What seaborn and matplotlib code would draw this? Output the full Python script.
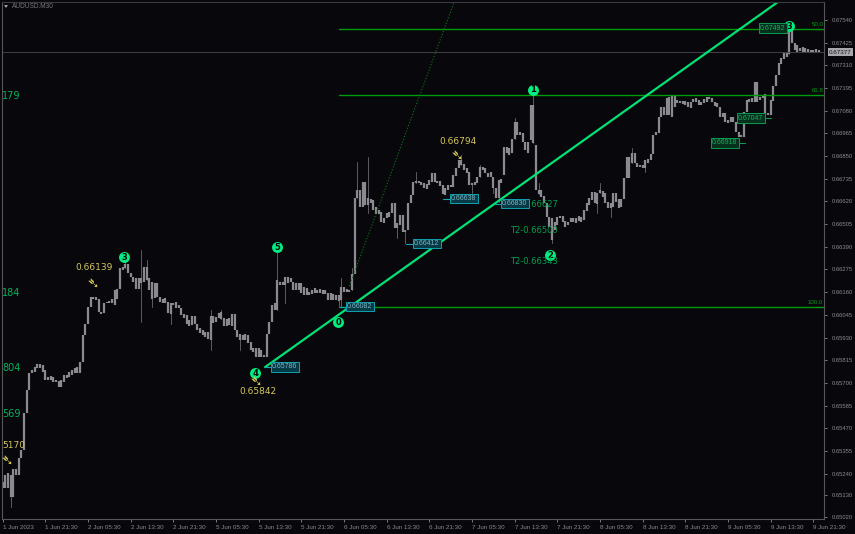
import matplotlib
matplotlib.use("Agg")
import matplotlib.pyplot as plt
import numpy as np
import pandas as pd
import seaborn as sns

# candle bodies in price points (0.00001), one per M30 bar
body_top = [
    65199, 65233, 65241, 65233, 65266, 65266, 65317, 65359, 65545, 65664, 65748, 65765, 65782, 65795, 65795, 65790,
    65765, 65731, 65734, 65731, 65714, 65711, 65714, 65740, 65740, 65756, 65765, 65773, 65782, 65807, 65942, 66001,
    66086, 66137, 66137, 66137, 66123, 66061, 66106, 66111, 66115, 66123, 66170, 66174, 66280, 66289, 66302, 66302,
    66255, 66238, 66230, 66230, 66230, 66289, 66289, 66230, 66213, 66208, 66208, 66137, 66123, 66128, 66111, 66103,
    66103, 66111, 66094, 66078, 66049, 66044, 66018, 66039, 66039, 66001, 65976, 65968, 65959, 65959, 66039, 66039,
    66032, 66056, 66061, 66027, 66022, 66027, 66049, 66049, 65968, 65946, 65942, 65947, 65942, 65909, 65875, 65875,
    65875, 65866, 65841, 65947, 66010, 66094, 66103, 66221, 66213, 66213, 66238, 66238, 66230, 66213, 66208, 66205,
    66205, 66185, 66179, 66163, 66171, 66179, 66171, 66174, 66171, 66171, 66154, 66154, 66151, 66146, 66146, 66188,
    66188, 66174, 66171, 66252, 66636, 66678, 66678, 66720, 66720, 66636, 66631, 66627, 66593, 66577, 66568, 66534,
    66560, 66568, 66610, 66610, 66509, 66551, 66551, 66475, 66614, 66653, 66720, 66725, 66725, 66720, 66712, 66708,
    66729, 66762, 66762, 66725, 66725, 66703, 66686, 66703, 66703, 66754, 66788, 66830, 66830, 66810, 66788, 66771,
    66715, 66720, 66746, 66793, 66793, 66788, 66766, 66771, 66742, 66686, 66729, 66732, 66894, 66894, 66889, 66935,
    67024, 67024, 66974, 66965, 66923, 66923, 67109, 67109, 66906, 66678, 66678, 66648, 66610, 66543, 66534, 66517,
    66543, 66546, 66546, 66523, 66517, 66534, 66534, 66534, 66546, 66542, 66576, 66610, 66635, 66669, 66669, 66664,
    66678, 66674, 66661, 66619, 66610, 66661, 66661, 66630, 66630, 66737, 66847, 66847, 66867, 66864, 66813, 66804,
    66804, 66830, 66833, 66860, 66957, 66973, 67049, 67097, 67100, 67142, 67151, 67159, 67159, 67134, 67131, 67131,
    67131, 67126, 67126, 67137, 67142, 67134, 67126, 67137, 67151, 67151, 67142, 67126, 67117, 67100, 67070, 67070,
    67033, 67046, 67046, 67024, 66973, 66957, 67075, 67134, 67137, 67142, 67227, 67227, 67151, 67159, 67163, 67066,
    67134, 67205, 67261, 67320, 67345, 67371, 67379, 67489, 67489, 67425, 67413, 67396, 67401, 67396, 67391, 67387,
    67387, 67391, 67387,
]
body_bottom = [
    65165, 65165, 65165, 65123, 65123, 65233, 65233, 65317, 65359, 65545, 65664, 65748, 65756, 65773, 65773, 65756,
    65714, 65714, 65714, 65706, 65706, 65677, 65680, 65706, 65723, 65731, 65740, 65748, 65748, 65748, 65807, 65942,
    66001, 66086, 66123, 66120, 66061, 66049, 66052, 66103, 66106, 66106, 66094, 66123, 66174, 66272, 66280, 66255,
    66238, 66213, 66174, 66174, 66208, 66213, 66221, 66170, 66123, 66128, 66133, 66111, 66106, 66106, 66052, 66049,
    66094, 66078, 66078, 66044, 66027, 66001, 65988, 65993, 66001, 65968, 65951, 65942, 65934, 65925, 65917, 66005,
    66010, 66027, 66022, 65988, 65988, 65993, 65988, 65968, 65934, 65917, 65917, 65917, 65900, 65866, 65858, 65832,
    65832, 65832, 65832, 65832, 65947, 66010, 66069, 66069, 66196, 66196, 66196, 66204, 66213, 66171, 66171, 66171,
    66154, 66146, 66146, 66146, 66151, 66154, 66154, 66154, 66151, 66151, 66120, 66120, 66120, 66120, 66117, 66120,
    66163, 66163, 66163, 66171, 66252, 66636, 66593, 66593, 66602, 66602, 66610, 66577, 66556, 66556, 66517, 66512,
    66534, 66543, 66560, 66484, 66484, 66501, 66467, 66467, 66475, 66610, 66653, 66712, 66712, 66703, 66686, 66681,
    66703, 66720, 66720, 66712, 66698, 66658, 66653, 66678, 66695, 66695, 66749, 66788, 66805, 66779, 66762, 66703,
    66703, 66703, 66712, 66742, 66779, 66762, 66746, 66742, 66686, 66636, 66636, 66712, 66754, 66864, 66855, 66864,
    66935, 66957, 66957, 66923, 66881, 66864, 66931, 66915, 66678, 66658, 66644, 66610, 66543, 66492, 66425, 66475,
    66501, 66534, 66517, 66492, 66501, 66517, 66517, 66512, 66522, 66517, 66526, 66573, 66602, 66627, 66610, 66607,
    66661, 66644, 66613, 66585, 66585, 66590, 66619, 66585, 66590, 66630, 66737, 66737, 66813, 66813, 66796, 66796,
    66788, 66788, 66813, 66830, 66860, 66957, 66968, 67049, 67058, 67058, 67058, 67049, 67100, 67117, 67120, 67114,
    67109, 67097, 67092, 67126, 67126, 67109, 67109, 67117, 67126, 67137, 67126, 67104, 67100, 67049, 67046, 67024,
    67019, 67024, 67024, 66973, 66948, 66945, 66945, 67075, 67126, 67126, 67126, 67126, 67134, 67142, 67066, 67058,
    67058, 67131, 67205, 67261, 67317, 67340, 67354, 67367, 67421, 67387, 67379, 67384, 67379, 67379, 67371, 67374,
    67371, 67371, 67379,
]
wick_bars = [3, 46, 52, 54, 56, 63, 78, 82, 89, 103, 106, 126, 127, 131, 133, 137, 148, 151, 155, 172, 176, 179,
             184, 186, 192, 199, 201, 206, 223, 224, 228, 236, 241, 295]
wick_high = [65233, 66314, 66373, 66323, 66213, 66103, 66069, 66072, 65946, 66356, 66238, 66146, 66230, 66281, 66822,
             66847, 66509, 66475, 66771, 66855, 66715, 66805, 66742, 66729, 67041, 67160, 66712, 66534, 66664, 66715,
             66610, 66889, 66830, 67523]
wick_low = [65072, 66280, 66010, 66221, 66086, 66001, 65866, 66022, 65866, 66069, 66103, 66087, 66087, 66171, 66636,
            66560, 66433, 66408, 66712, 66805, 66661, 66742, 66661, 66619, 66935, 66915, 66658, 66408, 66559, 66661,
            66542, 66813, 66771, 67367]

price_ticks = [67540, 67425, 67310, 67195, 67080, 66965, 66850, 66735, 66620, 66505, 66390, 66275, 66160, 66045,
               65930, 65815, 65700, 65585, 65470, 65355, 65240, 65130, 65020]
time_labels = ["1 Jun 2023", "1 Jun 21:30", "2 Jun 05:30", "2 Jun 13:30", "2 Jun 21:30", "5 Jun 05:30", "5 Jun 13:30",
               "5 Jun 21:30", "6 Jun 05:30", "6 Jun 13:30", "6 Jun 21:30", "7 Jun 05:30", "7 Jun 13:30", "7 Jun 21:30",
               "8 Jun 05:30", "8 Jun 13:30", "8 Jun 21:30", "9 Jun 05:30", "9 Jun 13:30", "9 Jun 21:30"]
last_price = 67377

# fibonacci levels and wave markers
fib_prices = [67494, 67162, 66087]
fib_start_bars = [126, 126, 126]
trend_bars = [98.4, 290.7]
trend_prices = [65780, 67631]
dotted_bars = [130, 169.3]
dotted_prices = [66190, 67631]
wave_labels = ["3", "5", "4", "0", "1", "2", "3"]
wave_bars = [45.5, 103, 94.7, 125.8, 199, 205.3, 295]
wave_prices = [66336, 66388, 65750, 66007, 67185, 66347, 67509]

BG = "#07070c"
FG = "#8a8a8f"
GREEN = "#00b35c"
BRIGHT = "#00ee80"
YELLOW = "#d6c85a"
LIME = "#009a0a"
SMALL = "Liberation Sans"

sns.set_theme(style="dark", rc={"axes.facecolor": BG, "figure.facecolor": BG, "axes.edgecolor": "#55555a",
                                "axes.linewidth": 0.8})
plt.rcParams["font.family"] = ["DejaVu Sans"]

fig = plt.figure(figsize=(8.55, 5.34), dpi=100)
ax = fig.add_axes([2 / 855, 15 / 534, 822 / 855, 517 / 534])


def px_text(x, y, s, **kwargs):
    fig.text(x / 855, 1 - y / 534, s, va="center", **kwargs)


def vertical_frame(bars, tops, bottoms):
    return pd.DataFrame({
        "bar": np.concatenate([bars, bars]),
        "price": np.concatenate([tops, bottoms]) / 1e5,
    })


bars = np.arange(len(body_top))
wicks = vertical_frame(wick_bars, wick_high, wick_low)
bodies = vertical_frame(bars, body_top, body_bottom)
sns.lineplot(data=wicks, x="bar", y="price", units="bar", estimator=None, color="#5c5c62", lw=0.7, ax=ax, legend=False)
sns.lineplot(data=bodies, x="bar", y="price", units="bar", estimator=None, color="#8a8a90", lw=1.6,
             solid_capstyle="butt", ax=ax, legend=False)

# horizontal levels
for price, start in zip(fib_prices, fib_start_bars):
    level = pd.DataFrame({"bar": [start, 308], "price": [price / 1e5, price / 1e5]})
    sns.lineplot(data=level, x="bar", y="price", color=LIME, lw=1, ax=ax, legend=False)
current = pd.DataFrame({"bar": [-1, 308], "price": [last_price / 1e5, last_price / 1e5]})
sns.lineplot(data=current, x="bar", y="price", color="#404046", lw=0.7, ax=ax, legend=False)

dotted = pd.DataFrame({"bar": dotted_bars, "price": np.array(dotted_prices) / 1e5})
sns.lineplot(data=dotted, x="bar", y="price", color="#0a7a1a", lw=0.8, linestyle=":", ax=ax, legend=False)
trend = pd.DataFrame({"bar": trend_bars, "price": np.array(trend_prices) / 1e5})
sns.lineplot(data=trend, x="bar", y="price", color="#00e274", lw=1.6, ax=ax, legend=False)

# wave circles
waves = pd.DataFrame({"bar": wave_bars, "price": np.array(wave_prices) / 1e5})
sns.scatterplot(data=waves, x="bar", y="price", color=BRIGHT, s=62, linewidth=0, ax=ax, legend=False, zorder=5)
for label, bar, price in zip(wave_labels, wave_bars, wave_prices):
    ax.text(bar, price / 1e5, label, color=BG, fontsize=6, ha="center", va="center", fontweight="bold", zorder=6)

ax.set_xlim(-0.25, 308)
ax.set_ylim(0.65010, 0.67631)
ax.set(xlabel=None, ylabel=None)
ax.yaxis.tick_right()
ax.set_yticks([p / 1e5 for p in price_ticks])
ax.set_yticklabels([f"{p / 1e5:.5f}" for p in price_ticks], family=SMALL)
ax.set_xticks(16 * np.arange(len(time_labels)))
ax.set_xticklabels(time_labels, ha="left", family=SMALL)
ax.tick_params(axis="y", colors=FG, labelsize=4.2, length=2.5, width=0.6, pad=3, right=True)
ax.tick_params(axis="x", colors=FG, labelsize=4.5, length=2, width=0.6, pad=2, bottom=True)
ax.spines["top"].set_color("#3a3a40")

# current price tag
px_text(829, 52, "0.67377", color="#15151a", fontsize=4.5, ha="left", family=SMALL,
        bbox=dict(facecolor="#a8a8ac", edgecolor="none", pad=1.1))

# fibonacci labels
for x, y, s in [(812, 25, "50.0"), (812, 90, "61.8"), (808, 302, "100.0")]:
    px_text(x, y, s, color="#00a010", fontsize=4.4, ha="left", family=SMALL)

# left edge and target labels
for y, s in [(96, "179"), (292.5, "184"), (368, "804"), (414, "569")]:
    px_text(2, y, s, color=GREEN, fontsize=7, ha="left")
for x, y, s in [(2, 445, "5170"), (75, 268, "0.66139"), (439, 141, "0.66794"), (239, 391, "0.65842")]:
    px_text(x, y, s, color=YELLOW, fontsize=6.5, ha="left")
for x, y in [(7, 461), (93, 284), (457, 156), (256, 382)]:
    px_text(x, y, "\u27b4", color=YELLOW, fontsize=11, ha="center")
for y, s in [(205, "T2-0.66627"), (230.5, "T2-0.66500"), (261, "T2-0.66343")]:
    px_text(510, y, s, color="#00a050", fontsize=6, ha="left")

# boxed price labels with their short leader lines
cyan_boxes = [(272, 367, "0.65786", 265), (347, 306.5, "0.66082", 340), (414, 243.5, "0.66412", 406),
              (451, 198.5, "0.66638", 443), (502, 203.5, "0.66830", 495)]
for x, y, s, start in cyan_boxes:
    fig.add_artist(plt.Line2D([start / 855, x / 855], [1 - y / 534] * 2, color="#10a8b8", lw=0.8))
    px_text(x, y, s, color="#7fb4c0", fontsize=5, ha="left", family=SMALL,
            bbox=dict(facecolor="#053a46", edgecolor="#10a0b0", lw=0.7, pad=1))
green_boxes = [(760, 28, "0.67492", 786), (738, 118, "0.67047", 771), (712, 143, "0.66918", 745)]
for x, y, s, stop in green_boxes:
    fig.add_artist(plt.Line2D([x / 855, stop / 855], [1 - y / 534] * 2, color="#0a9a50", lw=0.8))
    px_text(x, y, s, color="#14b060", fontsize=5, ha="left", family=SMALL,
            bbox=dict(facecolor="#05301c", edgecolor="#0a9a50", lw=0.7, pad=1))

# chart header
fig.add_artist(plt.Polygon([[4 / 855, 1 - 5 / 534], [8 / 855, 1 - 5 / 534], [6 / 855, 1 - 8 / 534]],
                           facecolor="#a0a0a0", edgecolor="none"))
px_text(12, 6.5, "AUDUSD.M30", color="#77777c", fontsize=4.7, ha="left", family=SMALL)

fig.savefig("out.png", dpi=100, facecolor=BG)
